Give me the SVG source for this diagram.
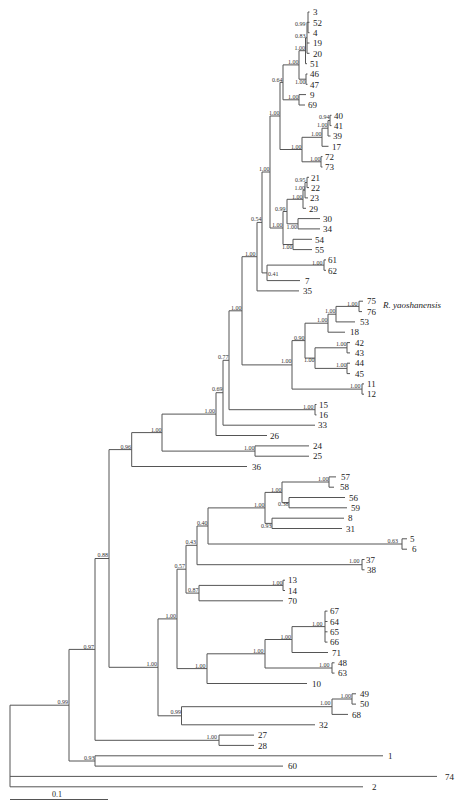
<svg xmlns="http://www.w3.org/2000/svg" width="474" height="809" viewBox="0 0 474 809">
<style>
.b{fill:none;stroke:#555;stroke-width:1}
.l{font-family:"Liberation Serif","Times New Roman",serif;font-size:9px;fill:#222}
.s{font-family:"Liberation Serif","Times New Roman",serif;font-size:6px;fill:#333;text-anchor:end}
.i{font-style:italic}
</style>
<rect width="474" height="809" fill="#fff"/>
<g id="connectors" class="b">
<path d="M308 12V32.7M308 12H309.5M308 22.3H309.5M308 32.7H309.5"/>
<path d="M307 22.3V53.3M307 22.3H308M307 43H309.5M307 53.3H309.5"/>
<path d="M305.5 37.8V63.7M305.5 37.8H307M305.5 63.7H307"/>
<path d="M306 74V84.3M306 74H307.5M306 84.3H307.5"/>
<path d="M299 50.7V79.2M299 50.7H305.5M299 79.2H306"/>
<path d="M299 94.6V105M299 94.6H306M299 105H305"/>
<path d="M283 64.9V99.8M283 64.9H299M283 99.8H299"/>
<path d="M330 115.3V125.6M330 115.3H331.5M330 125.6H331.5"/>
<path d="M328 120.5V136M328 120.5H330M328 136H330.5"/>
<path d="M322 128.2V146.3M322 128.2H328M322 146.3H328.5"/>
<path d="M321 156.6V167M321 156.6H322.5M321 167H322.5"/>
<path d="M302 137.3V161.8M302 137.3H322M302 161.8H321"/>
<path d="M280 82.4V149.5M280 82.4H283M280 149.5H302"/>
<path d="M307 177.3V187.6M307 177.3H309M307 187.6H309"/>
<path d="M305 182.5V197.9M305 182.5H307M305 197.9H308"/>
<path d="M303 190.2V208.3M303 190.2H305M303 208.3H306"/>
<path d="M298 218.6V228.9M298 218.6H320M298 228.9H320"/>
<path d="M287 199.3V223.8M287 199.3H303M287 223.8H298"/>
<path d="M293 239.3V249.6M293 239.3H312M293 249.6H312"/>
<path d="M283 211.5V244.5M283 211.5H287M283 244.5H293"/>
<path d="M270 116V228M270 116H280M270 228H283"/>
<path d="M324 259.9V270.3M324 259.9H326M324 270.3H326"/>
<path d="M267 265.1V280.6M267 265.1H324M267 280.6H300"/>
<path d="M262 172V272.9M262 172H270M262 272.9H267"/>
<path d="M257 222.4V290.9M257 222.4H262M257 290.9H299"/>
<path d="M359 301.2V311.6M359 301.2H363M359 311.6H362"/>
<path d="M336 306.4V321.9M336 306.4H359M336 321.9H355"/>
<path d="M328 314.2V332.2M328 314.2H336M328 332.2H345"/>
<path d="M347 342.6V352.9M347 342.6H350M347 352.9H350"/>
<path d="M347 363.2V373.6M347 363.2H350M347 373.6H350"/>
<path d="M315 347.8V368.4M315 347.8H347M315 368.4H347"/>
<path d="M305 323.2V358.1M305 323.2H328M305 358.1H315"/>
<path d="M362 383.9V394.2M362 383.9H364M362 394.2H364"/>
<path d="M292 340.6V389.1M292 340.6H305M292 389.1H362"/>
<path d="M242 256.7V364.9M242 256.7H257M242 364.9H292"/>
<path d="M315 404.5V414.9M315 404.5H316.5M315 414.9H316.5"/>
<path d="M229 310.8V409.7M229 310.8H242M229 409.7H315"/>
<path d="M223 360.3V425.2M223 360.3H229M223 425.2H315"/>
<path d="M216 392.7V435.5M216 392.7H223M216 435.5H267"/>
<path d="M255 445.9V456.2M255 445.9H309M255 456.2H309"/>
<path d="M162 414.1V451.1M162 414.1H216M162 451.1H255"/>
<path d="M131.7 432.6V466.5M131.7 432.6H162M131.7 466.5H247"/>
<path d="M329 476.9V487.2M329 476.9H336M329 487.2H334"/>
<path d="M289 497.5V507.8M289 497.5H345M289 507.8H347"/>
<path d="M282 482V502.7M282 482H329M282 502.7H289"/>
<path d="M272 518.2V528.5M272 518.2H344M272 528.5H342"/>
<path d="M265 492.4V523.4M265 492.4H282M265 523.4H272"/>
<path d="M402 538.8V549.2M402 538.8H407M402 549.2H407"/>
<path d="M208 507.9V544M208 507.9H265M208 544H402"/>
<path d="M362 559.5V569.8M362 559.5H364.5M362 569.8H364.5"/>
<path d="M197 526V564.7M197 526H208M197 564.7H362"/>
<path d="M283 580.2V590.5M283 580.2H285M283 590.5H285"/>
<path d="M199 585.4V600.8M199 585.4H283M199 600.8H283"/>
<path d="M186 545.3V593.1M186 545.3H197M186 593.1H199"/>
<path d="M325 611.1V642.1M325 611.1H327.5M325 621.5H327.5M325 631.8H327.5M325 642.1H327.5"/>
<path d="M292 626.6V652.5M292 626.6H325M292 652.5H328"/>
<path d="M332 662.8V673.1M332 662.8H334.5M332 673.1H334.5"/>
<path d="M265 639.5V668M265 639.5H292M265 668H332"/>
<path d="M207 653.8V683.5M207 653.8H265M207 683.5H307"/>
<path d="M177 569.2V668.6M177 569.2H186M177 668.6H207"/>
<path d="M352 693.8V704.1M352 693.8H356M352 704.1H356"/>
<path d="M332 699V714.4M332 699H352M332 714.4H348"/>
<path d="M181.5 706.7V724.8M181.5 706.7H332M181.5 724.8H315"/>
<path d="M158 618.9V715.8M158 618.9H177M158 715.8H181.5"/>
<path d="M109 449.6V667.3M109 449.6H131.7M109 667.3H158"/>
<path d="M219 735.1V745.4M219 735.1H254M219 745.4H254"/>
<path d="M95 558.5V740.3M95 558.5H109M95 740.3H219"/>
<path d="M95 755.8V766.1M95 755.8H383M95 766.1H283"/>
<path d="M69 649.4V761M69 649.4H95M69 761H95"/>
<path d="M10 705.2V786.8M10 705.2H69M10 776.4H437M10 786.8H363"/>
</g>
<g id="support">
<text class="s" x="305.5" y="25.5">0.99</text>
<text class="s" x="305.5" y="37.5">0.83</text>
<text class="s" x="305" y="49.5">1.00</text>
<text class="s" x="298.5" y="63.5">1.00</text>
<text class="s" x="305.5" y="83.5">1.00</text>
<text class="s" x="282.5" y="81.5">0.64</text>
<text class="s" x="298.5" y="99">1.00</text>
<text class="s" x="279.5" y="114.5">1.00</text>
<text class="s" x="329.5" y="119">0.94</text>
<text class="s" x="327.5" y="127">1.00</text>
<text class="s" x="321.5" y="135.5">1.00</text>
<text class="s" x="301.5" y="148.5">1.00</text>
<text class="s" x="320.5" y="160.5">1.00</text>
<text class="s" x="269.5" y="171">1.00</text>
<text class="s" x="305.5" y="182">0.95</text>
<text class="s" x="305" y="189.5">1.00</text>
<text class="s" x="302.5" y="198.5">1.00</text>
<text class="s" x="285.5" y="210.5">0.99</text>
<text class="s" x="261.5" y="220.5">0.54</text>
<text class="s" x="282.5" y="226.5">1.00</text>
<text class="s" x="297" y="229">1.00</text>
<text class="s" x="292.5" y="249">1.00</text>
<text class="s" x="255.5" y="255.5">1.00</text>
<text class="s" x="322.5" y="264.5">1.00</text>
<text class="s" x="268" y="275.5" style="text-anchor:start">0.41</text>
<text class="s" x="357.5" y="306">1.00</text>
<text class="s" x="241.5" y="309.5">1.00</text>
<text class="s" x="335.5" y="312.5">1.00</text>
<text class="s" x="327.5" y="321.5">1.00</text>
<text class="s" x="304.5" y="339.5">0.90</text>
<text class="s" x="346.5" y="346">1.00</text>
<text class="s" x="228.5" y="359">0.77</text>
<text class="s" x="314.5" y="362">1.00</text>
<text class="s" x="291.5" y="363">1.00</text>
<text class="s" x="346.5" y="366.5">1.00</text>
<text class="s" x="360.5" y="387.5">1.00</text>
<text class="s" x="222.5" y="391">0.69</text>
<text class="s" x="313.5" y="408.5">1.00</text>
<text class="s" x="215" y="412.5">1.00</text>
<text class="s" x="161.5" y="431.5">1.00</text>
<text class="s" x="131" y="448.5">0.96</text>
<text class="s" x="254.5" y="449.5">1.00</text>
<text class="s" x="328.5" y="481">1.00</text>
<text class="s" x="281.5" y="491.5">1.00</text>
<text class="s" x="288.5" y="505.5">0.38</text>
<text class="s" x="264.5" y="507">1.00</text>
<text class="s" x="207.5" y="525">0.40</text>
<text class="s" x="271.5" y="528">0.93</text>
<text class="s" x="398" y="542.5">0.63</text>
<text class="s" x="196" y="544">0.43</text>
<text class="s" x="108" y="557">0.88</text>
<text class="s" x="359.5" y="562.5">1.00</text>
<text class="s" x="185" y="568">0.57</text>
<text class="s" x="282.5" y="584.5">1.00</text>
<text class="s" x="198.5" y="592">0.87</text>
<text class="s" x="176" y="618">1.00</text>
<text class="s" x="322.5" y="625.5">1.00</text>
<text class="s" x="291" y="638.5">1.00</text>
<text class="s" x="94" y="648.5">0.97</text>
<text class="s" x="263.5" y="652.5">1.00</text>
<text class="s" x="157" y="666">1.00</text>
<text class="s" x="329.5" y="666.5">1.00</text>
<text class="s" x="205.5" y="668">1.00</text>
<text class="s" x="351" y="697.5">1.00</text>
<text class="s" x="68" y="704">0.99</text>
<text class="s" x="330.5" y="705">1.00</text>
<text class="s" x="181" y="714">0.99</text>
<text class="s" x="217" y="739">1.00</text>
<text class="s" x="94.5" y="760">0.93</text>
</g>
<g id="leaf-3"><text class="l" x="313" y="15.2">3</text></g>
<g id="leaf-52"><text class="l" x="313" y="25.5">52</text></g>
<g id="leaf-4"><text class="l" x="313" y="35.9">4</text></g>
<g id="leaf-19"><text class="l" x="313" y="46.2">19</text></g>
<g id="leaf-20"><text class="l" x="313" y="56.5">20</text></g>
<g id="leaf-51"><text class="l" x="310" y="66.9">51</text></g>
<g id="leaf-46"><text class="l" x="310" y="77.2">46</text></g>
<g id="leaf-47"><text class="l" x="310" y="87.5">47</text></g>
<g id="leaf-9"><text class="l" x="310" y="97.8">9</text></g>
<g id="leaf-69"><text class="l" x="308" y="108.2">69</text></g>
<g id="leaf-40"><text class="l" x="334" y="118.5">40</text></g>
<g id="leaf-41"><text class="l" x="334" y="128.8">41</text></g>
<g id="leaf-39"><text class="l" x="333" y="139.2">39</text></g>
<g id="leaf-17"><text class="l" x="332" y="149.5">17</text></g>
<g id="leaf-72"><text class="l" x="325" y="159.8">72</text></g>
<g id="leaf-73"><text class="l" x="325" y="170.2">73</text></g>
<g id="leaf-21"><text class="l" x="311" y="180.5">21</text></g>
<g id="leaf-22"><text class="l" x="311" y="190.8">22</text></g>
<g id="leaf-23"><text class="l" x="310" y="201.1">23</text></g>
<g id="leaf-29"><text class="l" x="309" y="211.5">29</text></g>
<g id="leaf-30"><text class="l" x="323" y="221.8">30</text></g>
<g id="leaf-34"><text class="l" x="323" y="232.1">34</text></g>
<g id="leaf-54"><text class="l" x="315" y="242.5">54</text></g>
<g id="leaf-55"><text class="l" x="315" y="252.8">55</text></g>
<g id="leaf-61"><text class="l" x="328" y="263.1">61</text></g>
<g id="leaf-62"><text class="l" x="328" y="273.5">62</text></g>
<g id="leaf-7"><text class="l" x="305" y="283.8">7</text></g>
<g id="leaf-35"><text class="l" x="303" y="294.1">35</text></g>
<g id="leaf-75"><text class="l" x="367" y="304.4">75</text></g>
<g id="leaf-76"><text class="l" x="367" y="314.8">76</text></g>
<g id="label-ryao"><text class="l i" x="383" y="308">R. yaoshanensis</text></g>
<g id="leaf-53"><text class="l" x="360" y="325.1">53</text></g>
<g id="leaf-18"><text class="l" x="350" y="335.4">18</text></g>
<g id="leaf-42"><text class="l" x="355" y="345.8">42</text></g>
<g id="leaf-43"><text class="l" x="355" y="356.1">43</text></g>
<g id="leaf-44"><text class="l" x="355" y="366.4">44</text></g>
<g id="leaf-45"><text class="l" x="355" y="376.8">45</text></g>
<g id="leaf-11"><text class="l" x="367" y="387.1">11</text></g>
<g id="leaf-12"><text class="l" x="367" y="397.4">12</text></g>
<g id="leaf-15"><text class="l" x="319" y="407.7">15</text></g>
<g id="leaf-16"><text class="l" x="319" y="418.1">16</text></g>
<g id="leaf-33"><text class="l" x="318" y="428.4">33</text></g>
<g id="leaf-26"><text class="l" x="270" y="438.7">26</text></g>
<g id="leaf-24"><text class="l" x="313" y="449.1">24</text></g>
<g id="leaf-25"><text class="l" x="313" y="459.4">25</text></g>
<g id="leaf-36"><text class="l" x="252" y="469.7">36</text></g>
<g id="leaf-57"><text class="l" x="341" y="480.1">57</text></g>
<g id="leaf-58"><text class="l" x="340" y="490.4">58</text></g>
<g id="leaf-56"><text class="l" x="349" y="500.7">56</text></g>
<g id="leaf-59"><text class="l" x="351" y="511">59</text></g>
<g id="leaf-8"><text class="l" x="348" y="521.4">8</text></g>
<g id="leaf-31"><text class="l" x="346" y="531.7">31</text></g>
<g id="leaf-5"><text class="l" x="410" y="542">5</text></g>
<g id="leaf-6"><text class="l" x="412" y="552.4">6</text></g>
<g id="leaf-37"><text class="l" x="366" y="562.7">37</text></g>
<g id="leaf-38"><text class="l" x="367" y="573">38</text></g>
<g id="leaf-13"><text class="l" x="288" y="583.4">13</text></g>
<g id="leaf-14"><text class="l" x="288" y="593.7">14</text></g>
<g id="leaf-70"><text class="l" x="288" y="604">70</text></g>
<g id="leaf-67"><text class="l" x="330" y="614.3">67</text></g>
<g id="leaf-64"><text class="l" x="330" y="624.7">64</text></g>
<g id="leaf-65"><text class="l" x="330" y="635">65</text></g>
<g id="leaf-66"><text class="l" x="330" y="645.3">66</text></g>
<g id="leaf-71"><text class="l" x="332" y="655.7">71</text></g>
<g id="leaf-48"><text class="l" x="338" y="666">48</text></g>
<g id="leaf-63"><text class="l" x="338" y="676.3">63</text></g>
<g id="leaf-10"><text class="l" x="312" y="686.7">10</text></g>
<g id="leaf-49"><text class="l" x="360" y="697">49</text></g>
<g id="leaf-50"><text class="l" x="360" y="707.3">50</text></g>
<g id="leaf-68"><text class="l" x="352" y="717.6">68</text></g>
<g id="leaf-32"><text class="l" x="319" y="728">32</text></g>
<g id="leaf-27"><text class="l" x="258" y="738.3">27</text></g>
<g id="leaf-28"><text class="l" x="258" y="748.6">28</text></g>
<g id="leaf-1"><text class="l" x="388" y="759">1</text></g>
<g id="leaf-60"><text class="l" x="288" y="769.3">60</text></g>
<g id="leaf-74"><text class="l" x="445" y="779.6">74</text></g>
<g id="leaf-2"><text class="l" x="372" y="790">2</text></g>
<g id="scale-bar">
<path class="b" d="M10 799.5H108"/>
<text class="l" x="57" y="797" style="text-anchor:middle;font-size:8px">0.1</text>
</g>
</svg>
